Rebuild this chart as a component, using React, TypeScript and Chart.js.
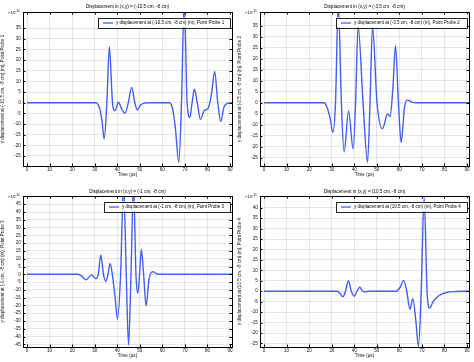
import React, { useEffect, useRef } from "react";
import { Chart, registerables } from "chart.js";

Chart.register(...registerables);

const FONT = "'Liberation Sans', Arial, sans-serif";
const LINE_COLOR = "rgb(65,95,240)";

// ---- data (time in µs, displacement in 1e-11 m) ----
const xTicks = [0, 10, 20, 30, 40, 50, 60, 70, 80, 90];

const time1 = [0, 30.5, 32.3, 33.3, 34.2, 35.4, 36.5, 37.9, 39.0, 40.5, 42.0, 43.4, 44.9, 46.4, 47.8, 48.9, 50.4, 52.0, 54.0, 63.0, 64.5, 65.8, 67.3, 68.5, 69.7, 71.0, 72.2, 73.2, 74.2, 75.5, 76.9, 78.6, 80.2, 81.8, 83.2, 84.6, 85.9, 87.3, 88.6, 90.9];
const disp1 = [0, 0, -3, -9, -17, 0, 26.3, 0, -3.8, 0.2, -3, -5, 0, 7.2, 0, -3.4, -1, -0.2, 0, 0, -2.5, -12, -28, 0, 48, 0, -6.9, 0, 6.3, 0, -7.8, -3.6, -2.8, 4, 14.7, 0, -8.8, -2.2, -0.4, 0];

const time2 = [0, 26.5, 27.9, 29.3, 30.5, 31.7, 32.9, 34.3, 35.5, 37.5, 39.5, 40.6, 41.7, 43.9, 45.9, 47.0, 48.1, 50.1, 52.5, 54.8, 55.9, 57.1, 58.3, 59.6, 60.8, 62.3, 63.7, 65.5, 67.5, 90.9];
const disp2 = [0, 0, -2, -7, -13.4, 0, 46, 0, -22.4, -3.7, -21, 0, 35, 0, -27, 0, 34.5, 0, -11.8, -5.1, -6.2, 6, 25.9, 0, -18, -2, 1.2, 0.3, 0, 0];

const time3 = [0, 22.5, 24.3, 26.1, 28.6, 30.5, 31.6, 32.7, 33.9, 34.9, 35.9, 36.8, 37.8, 39.0, 40.1, 41.5, 42.8, 44.0, 45.0, 46.1, 47.2, 48.3, 49.1, 49.9, 50.7, 51.7, 52.8, 54.1, 55.7, 57.5, 59.5, 90.9];
const disp3 = [0, 0, -1.2, -3.6, -0.4, -2.8, 0, 12.4, 0, -4.5, 0, 6.9, 0, -14, -28.9, 0, 58, 0, -45.4, 0, 58, 0, -12.2, 0, 16, 0, -20.3, -3, 1.7, 0.3, 0, 0];

const time4 = [0, 32.4, 33.7, 34.9, 36.1, 37.4, 38.7, 40.0, 41.2, 42.4, 43.8, 44.8, 46.5, 58.5, 60.3, 61.9, 63.3, 64.7, 66.0, 67.3, 68.5, 69.7, 71.0, 72.3, 73.4, 75.0, 76.6, 78.5, 81.0, 85.0, 90.9];
const disp4 = [0, 0, -1, -2.7, 0, 5, 0, -2.4, 0, 1.9, 0, -0.3, 0, 0, 1.8, 5.1, 0, -8.6, -3.4, -14, -26.4, 0, 45, 0, -8, -5, -3, -1.5, -0.6, -0.15, 0];

const yTicks1 = [-25, -20, -15, -10, -5, 0, 5, 10, 15, 20, 25, 30, 35];
const yTicks2 = [-25, -20, -15, -10, -5, 0, 5, 10, 15, 20, 25, 30, 35];
const yTicks3 = [-45, -40, -35, -30, -25, -20, -15, -10, -5, 0, 5, 10, 15, 20, 25, 30, 35, 40, 45];
const yTicks4 = [-25, -20, -15, -10, -5, 0, 5, 10, 15, 20, 25, 30, 35, 40];

const titles = [
  "Displacement in (x,y) = (-10.5 cm, -8 cm)",
  "Displacement in (x,y) = (-3.5 cm, -8 cm)",
  "Displacement in (x,y) = (-1 cm, -8 cm)",
  "Displacement in (x,y) = (10.5 cm, -8 cm)",
];
const seriesNames = [
  "y displacement at (-10.5 cm, -8 cm) (m), Point Probe 1",
  "y displacement at (-3.5 cm, -8 cm) (m), Point Probe 2",
  "y displacement at (-1 cm, -8 cm) (m), Point Probe 3",
  "y displacement at (10.5 cm, -8 cm) (m), Point Probe 4",
];
const xTitle = "Time (µs)";

type Panel = {
  time: number[];
  disp: number[];
  yTicks: number[];
  yMin: number;
  yMax: number;
  top: number;
  titleY: number;
  legendLeft: number;
  title: string;
  name: string;
};

const panels: Panel[] = [
  { time: time1, disp: disp1, yTicks: yTicks1, yMin: -29.7, yMax: 42.6, top: 12, titleY: 7, legendLeft: 98, title: titles[0], name: seriesNames[0] },
  { time: time2, disp: disp2, yTicks: yTicks2, yMin: -28.7, yMax: 41.2, top: 12, titleY: 7, legendLeft: 99, title: titles[1], name: seriesNames[1] },
  { time: time3, disp: disp3, yTicks: yTicks3, yMin: -46.7, yMax: 50.3, top: 15, titleY: 11, legendLeft: 104, title: titles[2], name: seriesNames[2] },
  { time: time4, disp: disp4, yTicks: yTicks4, yMin: -26.7, yMax: 45.6, top: 15, titleY: 11, legendLeft: 99, title: titles[3], name: seriesNames[3] },
];

const W = 237;
const H = 181;

const decorPlugin = {
  id: "decor",
  afterDraw(chart: any) {
    const { ctx, chartArea: a, scales } = chart;
    const p: Panel = chart.options.plugins.decor.panel;
    ctx.save();
    // inward tick marks
    ctx.strokeStyle = "#000";
    ctx.lineWidth = 1;
    const tl = 2.5;
    ctx.beginPath();
    for (const t of scales.x.ticks) {
      const px = Math.round(scales.x.getPixelForValue(t.value)) + 0.5;
      ctx.moveTo(px, a.bottom);
      ctx.lineTo(px, a.bottom - tl);
      ctx.moveTo(px, a.top);
      ctx.lineTo(px, a.top + tl);
    }
    for (const t of scales.y.ticks) {
      const py = Math.round(scales.y.getPixelForValue(t.value)) + 0.5;
      ctx.moveTo(a.left, py);
      ctx.lineTo(a.left + tl, py);
      ctx.moveTo(a.right, py);
      ctx.lineTo(a.right - tl, py);
    }
    ctx.stroke();
    // box
    ctx.strokeRect(Math.round(a.left) + 0.5, Math.round(a.top) + 0.5, Math.round(a.right - a.left), Math.round(a.bottom - a.top));

    // title
    ctx.fillStyle = "#000";
    ctx.font = `4.6px ${FONT}`;
    ctx.textAlign = "center";
    ctx.textBaseline = "middle";
    ctx.fillText(p.title, (a.left + a.right) / 2, p.titleY);

    // multiplier
    ctx.textAlign = "left";
    ctx.font = `4.4px ${FONT}`;
    const base = "×10";
    const bw = ctx.measureText(base).width;
    ctx.font = `3.4px ${FONT}`;
    const sw = ctx.measureText("-11").width;
    const mx = a.left - 3 - bw - sw;
    ctx.font = `4.4px ${FONT}`;
    ctx.fillText(base, mx, a.top + 0.5);
    ctx.font = `3.4px ${FONT}`;
    ctx.fillText("-11", mx + bw, a.top - 1.2);

    // legend
    ctx.font = `4.5px ${FONT}`;
    const lx = p.legendLeft;
    const ly = a.top + 5.5;
    const lw = a.right - 2 - lx;
    const lh = 10;
    ctx.fillStyle = "#fff";
    ctx.fillRect(lx, ly, lw, lh);
    ctx.strokeStyle = "#222";
    ctx.lineWidth = 1;
    ctx.strokeRect(Math.round(lx) + 0.5, Math.round(ly) + 0.5, Math.round(lw), lh);
    ctx.strokeStyle = LINE_COLOR;
    ctx.lineWidth = 1.3;
    ctx.beginPath();
    ctx.moveTo(lx + 5, ly + lh / 2 + 0.5);
    ctx.lineTo(lx + 15, ly + lh / 2 + 0.5);
    ctx.stroke();
    ctx.fillStyle = "#000";
    ctx.textAlign = "left";
    ctx.textBaseline = "middle";
    ctx.fillText(p.name, lx + 18, ly + lh / 2 + 0.7);
    ctx.restore();
  },
};

function ChartPanel({ panel }: { panel: Panel }) {
  const ref = useRef<HTMLCanvasElement | null>(null);
  useEffect(() => {
    if (!ref.current) return;
    const data = panel.time.map((t, i) => ({ x: t, y: panel.disp[i] }));
    const chart = new Chart(ref.current, {
      type: "line",
      data: {
        datasets: [
          {
            label: panel.name,
            data,
            borderColor: LINE_COLOR,
            borderWidth: 1.4,
            pointRadius: 0,
            fill: false,
            cubicInterpolationMode: "monotone",
          },
        ],
      },
      options: {
        animation: false,
        responsive: false,
        devicePixelRatio: 1,
        layout: { padding: { top: panel.top, right: W - 232, left: 0, bottom: 0 } },
        plugins: {
          legend: { display: false },
          title: { display: false },
          tooltip: { enabled: false },
          decor: { panel },
        } as any,
        scales: {
          x: {
            type: "linear",
            min: -1.8,
            max: 90.9,
            afterBuildTicks: (s: any) => {
              s.ticks = xTicks.map((v) => ({ value: v }));
            },
            afterFit: (s: any) => {
              s.height = 15;
            },
            grid: { color: "rgba(0,0,0,0.12)", lineWidth: 0.8, drawTicks: false },
            border: { display: false },
            ticks: {
              autoSkip: false,
              maxRotation: 0,
              minRotation: 0,
              padding: 1.5,
              color: "#111",
              font: { family: FONT, size: 4.5 },
            },
            title: {
              display: true,
              text: xTitle,
              color: "#111",
              font: { family: FONT, size: 4.6 },
              padding: { top: 0, bottom: 3.3 },
            },
          },
          y: {
            type: "linear",
            min: panel.yMin,
            max: panel.yMax,
            afterBuildTicks: (s: any) => {
              s.ticks = panel.yTicks.map((v) => ({ value: v }));
            },
            afterFit: (s: any) => {
              s.width = 23;
            },
            grid: { color: "rgba(0,0,0,0.12)", lineWidth: 0.8, drawTicks: false },
            border: { display: false },
            ticks: {
              autoSkip: false,
              padding: 2.2,
              color: "#111",
              font: { family: FONT, size: 4.5 },
            },
            title: {
              display: true,
              text: panel.name,
              color: "#111",
              font: { family: FONT, size: 4.5 },
              padding: { top: 0.4, bottom: 0 },
            },
          },
        },
      } as any,
      plugins: [decorPlugin],
    });
    return () => chart.destroy();
  }, [panel]);
  return <canvas ref={ref} width={W} height={H} style={{ display: "block", width: W, height: H }} />;
}

export default function App() {
  return (
    <div
      style={{
        position: "absolute",
        left: 0,
        top: 0,
        width: 2 * W,
        height: 2 * H,
        display: "flex",
        flexWrap: "wrap",
        background: "#fff",
      }}
    >
      {panels.map((p, i) => (
        <ChartPanel key={i} panel={p} />
      ))}
    </div>
  );
}
